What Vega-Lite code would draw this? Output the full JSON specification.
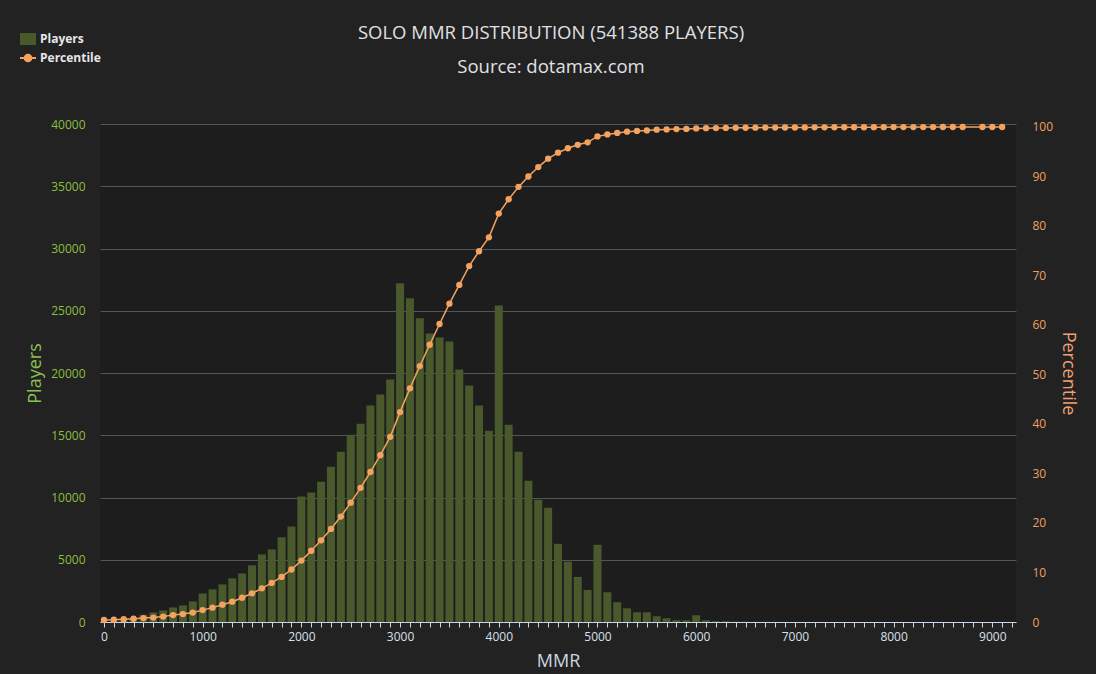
{
  "$schema": "https://vega.github.io/schema/vega-lite/v6.json",
  "description": "Solo MMR distribution of 541388 players with the cumulative percentile.",
  "autosize": {"type": "none"},
  "padding": {"left": 100, "top": 124, "right": 80, "bottom": 52},
  "width": 916,
  "height": 498,
  "background": "#222222",
  "title": {
    "text": "SOLO MMR DISTRIBUTION (541388 PLAYERS)",
    "subtitle": "Source: dotamax.com",
    "anchor": "middle",
    "frame": "group",
    "dx": -7,
    "offset": -43,
    "fontSize": 18.5,
    "fontWeight": "normal",
    "color": "#e0e0e3",
    "subtitleFontSize": 18.5,
    "subtitleColor": "#e0e0e3",
    "subtitlePadding": 15
  },
  "data": {
    "values": [
      {"MMR": 0, "Players": 20, "Percentile": 0.4},
      {"MMR": 100, "Players": 60, "Percentile": 0.45},
      {"MMR": 200, "Players": 120, "Percentile": 0.55},
      {"MMR": 300, "Players": 280, "Percentile": 0.65},
      {"MMR": 400, "Players": 580, "Percentile": 0.8},
      {"MMR": 500, "Players": 765, "Percentile": 0.9},
      {"MMR": 600, "Players": 925, "Percentile": 1.1},
      {"MMR": 700, "Players": 1170, "Percentile": 1.4},
      {"MMR": 800, "Players": 1330, "Percentile": 1.6},
      {"MMR": 900, "Players": 1650, "Percentile": 1.9},
      {"MMR": 1000, "Players": 2290, "Percentile": 2.4},
      {"MMR": 1100, "Players": 2620, "Percentile": 2.9},
      {"MMR": 1200, "Players": 3020, "Percentile": 3.5},
      {"MMR": 1300, "Players": 3500, "Percentile": 4.1},
      {"MMR": 1400, "Players": 3900, "Percentile": 4.9},
      {"MMR": 1500, "Players": 4550, "Percentile": 5.8},
      {"MMR": 1600, "Players": 5430, "Percentile": 6.8},
      {"MMR": 1700, "Players": 5830, "Percentile": 7.9},
      {"MMR": 1800, "Players": 6800, "Percentile": 9.1},
      {"MMR": 1900, "Players": 7670, "Percentile": 10.6},
      {"MMR": 2000, "Players": 10080, "Percentile": 12.4},
      {"MMR": 2100, "Players": 10400, "Percentile": 14.4},
      {"MMR": 2200, "Players": 11270, "Percentile": 16.5},
      {"MMR": 2300, "Players": 12470, "Percentile": 18.8},
      {"MMR": 2400, "Players": 13680, "Percentile": 21.3},
      {"MMR": 2500, "Players": 15050, "Percentile": 24.1},
      {"MMR": 2600, "Players": 15930, "Percentile": 27.1},
      {"MMR": 2700, "Players": 17380, "Percentile": 30.3},
      {"MMR": 2800, "Players": 18270, "Percentile": 33.7},
      {"MMR": 2900, "Players": 19480, "Percentile": 37.4},
      {"MMR": 3000, "Players": 27200, "Percentile": 42.4},
      {"MMR": 3100, "Players": 26000, "Percentile": 47.2},
      {"MMR": 3200, "Players": 24390, "Percentile": 51.7},
      {"MMR": 3300, "Players": 23180, "Percentile": 56.0},
      {"MMR": 3400, "Players": 22860, "Percentile": 60.2},
      {"MMR": 3500, "Players": 22530, "Percentile": 64.3},
      {"MMR": 3600, "Players": 20280, "Percentile": 68.1},
      {"MMR": 3700, "Players": 18990, "Percentile": 71.9},
      {"MMR": 3800, "Players": 17380, "Percentile": 74.9},
      {"MMR": 3900, "Players": 15370, "Percentile": 77.7},
      {"MMR": 4000, "Players": 25430, "Percentile": 82.5},
      {"MMR": 4100, "Players": 15850, "Percentile": 85.4},
      {"MMR": 4200, "Players": 13680, "Percentile": 87.9},
      {"MMR": 4300, "Players": 11350, "Percentile": 90.0},
      {"MMR": 4400, "Players": 9820, "Percentile": 91.9},
      {"MMR": 4500, "Players": 9170, "Percentile": 93.6},
      {"MMR": 4600, "Players": 6280, "Percentile": 94.8},
      {"MMR": 4700, "Players": 4850, "Percentile": 95.7},
      {"MMR": 4800, "Players": 3620, "Percentile": 96.4},
      {"MMR": 4900, "Players": 2575, "Percentile": 96.9},
      {"MMR": 5000, "Players": 6200, "Percentile": 98.1},
      {"MMR": 5100, "Players": 2390, "Percentile": 98.5},
      {"MMR": 5200, "Players": 1590, "Percentile": 98.8},
      {"MMR": 5300, "Players": 1100, "Percentile": 99.05},
      {"MMR": 5400, "Players": 780, "Percentile": 99.2},
      {"MMR": 5500, "Players": 780, "Percentile": 99.3},
      {"MMR": 5600, "Players": 460, "Percentile": 99.45},
      {"MMR": 5700, "Players": 300, "Percentile": 99.5},
      {"MMR": 5800, "Players": 140, "Percentile": 99.58},
      {"MMR": 5900, "Players": 140, "Percentile": 99.6},
      {"MMR": 6000, "Players": 540, "Percentile": 99.7},
      {"MMR": 6100, "Players": 140, "Percentile": 99.75},
      {"MMR": 6200, "Players": 60, "Percentile": 99.78},
      {"MMR": 6300, "Players": 60, "Percentile": 99.8},
      {"MMR": 6400, "Players": 25, "Percentile": 99.82},
      {"MMR": 6500, "Players": 20, "Percentile": 99.84},
      {"MMR": 6600, "Players": 15, "Percentile": 99.86},
      {"MMR": 6700, "Players": 12, "Percentile": 99.87},
      {"MMR": 6800, "Players": 10, "Percentile": 99.88},
      {"MMR": 6900, "Players": 8, "Percentile": 99.89},
      {"MMR": 7000, "Players": 7, "Percentile": 99.9},
      {"MMR": 7100, "Players": 6, "Percentile": 99.91},
      {"MMR": 7200, "Players": 5, "Percentile": 99.92},
      {"MMR": 7300, "Players": 5, "Percentile": 99.93},
      {"MMR": 7400, "Players": 4, "Percentile": 99.94},
      {"MMR": 7500, "Players": 4, "Percentile": 99.94},
      {"MMR": 7600, "Players": 3, "Percentile": 99.95},
      {"MMR": 7700, "Players": 3, "Percentile": 99.95},
      {"MMR": 7800, "Players": 3, "Percentile": 99.96},
      {"MMR": 7900, "Players": 2, "Percentile": 99.96},
      {"MMR": 8000, "Players": 2, "Percentile": 99.97},
      {"MMR": 8100, "Players": 2, "Percentile": 99.97},
      {"MMR": 8200, "Players": 2, "Percentile": 99.98},
      {"MMR": 8300, "Players": 1, "Percentile": 99.98},
      {"MMR": 8400, "Players": 1, "Percentile": 99.98},
      {"MMR": 8500, "Players": 1, "Percentile": 99.99},
      {"MMR": 8600, "Players": 1, "Percentile": 99.99},
      {"MMR": 8700, "Players": 1, "Percentile": 99.99},
      {"MMR": 8900, "Players": 1, "Percentile": 100},
      {"MMR": 9000, "Players": 1, "Percentile": 100},
      {"MMR": 9100, "Players": 1, "Percentile": 100}
    ]
  },
  "encoding": {
    "x": {
      "field": "MMR",
      "type": "quantitative",
      "scale": {"domain": [-40, 9240], "nice": false, "zero": false, "padding": 0},
      "axis": {
        "title": "MMR",
        "values": [0, 100, 200, 300, 400, 500, 600, 700, 800, 900, 1000, 1100, 1200, 1300, 1400, 1500, 1600, 1700, 1800, 1900, 2000, 2100, 2200, 2300, 2400, 2500, 2600, 2700, 2800, 2900, 3000, 3100, 3200, 3300, 3400, 3500, 3600, 3700, 3800, 3900, 4000, 4100, 4200, 4300, 4400, 4500, 4600, 4700, 4800, 4900, 5000, 5100, 5200, 5300, 5400, 5500, 5600, 5700, 5800, 5900, 6000, 6100, 6200, 6300, 6400, 6500, 6600, 6700, 6800, 6900, 7000, 7100, 7200, 7300, 7400, 7500, 7600, 7700, 7800, 7900, 8000, 8100, 8200, 8300, 8400, 8500, 8600, 8700, 8800, 8900, 9000, 9100, 9200],
        "labelExpr": "datum.value % 1000 === 0 ? format(datum.value, 'd') : ''",
        "labelOverlap": false,
        "grid": false,
        "domainColor": "#c8d6e8",
        "tickColor": "#c8d6e8",
        "tickSize": 5,
        "labelColor": "#d8e0ea",
        "labelFontSize": 12,
        "labelPadding": 4,
        "titleColor": "#cdd6e0",
        "titleFontSize": 18,
        "titleFontWeight": "normal",
        "titlePadding": 10
      }
    }
  },
  "layer": [
    {
      "mark": {"type": "bar", "size": 8},
      "encoding": {
        "y": {
          "field": "Players",
          "type": "quantitative",
          "scale": {"domain": [0, 40000], "nice": false},
          "axis": {
            "title": "Players",
            "values": [0, 5000, 10000, 15000, 20000, 25000, 30000, 35000, 40000],
            "format": "d",
            "domain": false,
            "ticks": false,
            "gridColor": "#555555",
            "labelColor": "#8cbf3f",
            "labelFontSize": 12,
            "labelPadding": 15,
            "titleColor": "#8cc152",
            "titleFontSize": 18,
            "titleFontWeight": "normal",
            "titlePadding": 6
          }
        },
        "color": {
          "datum": "Players",
          "scale": {"domain": ["Players", "Percentile"], "range": ["#4a592b", "#f3a35f"]},
          "legend": {
            "title": null,
            "orient": "none",
            "legendX": -78,
            "legendY": -91,
            "padding": 0,
            "symbolSize": 256,
            "rowPadding": 5,
            "labelOffset": 6,
            "labelFontSize": 12,
            "labelFontWeight": "bold",
            "labelColor": "#e6e6ea",
            "encode": {
              "symbols": {
                "update": {
                  "shape": {"signal": "datum.value === 'Players' ? 'M-1,-0.75H1V0.75H-1Z' : 'M-1,0H1M-0.42,0A0.42,0.42 0 1,0 0.42,0A0.42,0.42 0 1,0 -0.42,0Z'"},
                  "fill": {"signal": "datum.value === 'Players' ? '#4e5f30' : '#f3a35f'"},
                  "stroke": {"signal": "datum.value === 'Players' ? '#4e5f30' : '#f3a35f'"},
                  "strokeWidth": {"signal": "datum.value === 'Players' ? 0 : 2"},
                  "opacity": {"value": 1},
                  "fillOpacity": {"value": 1}
                }
              }
            }
          }
        }
      }
    },
    {
      "mark": {
        "type": "line",
        "strokeWidth": 1.5,
        "point": {"filled": true, "size": 40, "opacity": 1}
      },
      "encoding": {
        "y": {
          "field": "Percentile",
          "type": "quantitative",
          "scale": {"domain": [0, 100.6], "nice": false},
          "axis": {
            "orient": "right",
            "title": "Percentile",
            "values": [0, 10, 20, 30, 40, 50, 60, 70, 80, 90, 100],
            "grid": false,
            "domain": false,
            "ticks": false,
            "labelColor": "#f0a060",
            "labelFontSize": 12,
            "labelPadding": 16,
            "titleColor": "#f0a070",
            "titleFontSize": 18,
            "titleFontWeight": "normal",
            "titlePadding": 6
          }
        },
        "color": {"datum": "Percentile"}
      }
    }
  ],
  "resolve": {"scale": {"y": "independent"}},
  "config": {
    "font": "Open Sans",
    "view": {"fill": "#1d1d1d", "stroke": null}
  }
}
